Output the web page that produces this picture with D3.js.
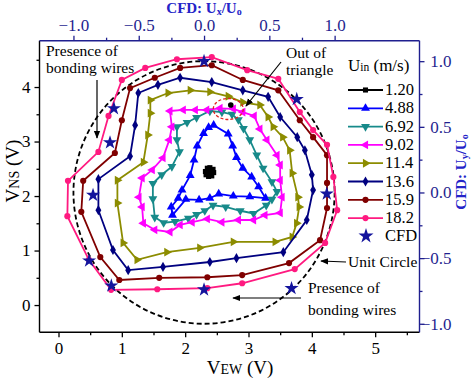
<!DOCTYPE html>
<html><head><meta charset="utf-8">
<script src="https://cdn.jsdelivr.net/npm/d3@7"></script>
<style>
html,body{margin:0;padding:0;background:#fff;}
svg{display:block;}
svg text{font-family:"Liberation Serif","DejaVu Serif",serif;}
</style></head>
<body><svg id="c" width="474" height="378"></svg>
<script>
// ---------- data (V_EW, V_NS in volts) ----------
const legendLabels = ["1.20","4.88","6.92","9.02","11.4","13.6","15.9","18.2"];
const s120 = [[2.39,2.52],[2.44,2.49],[2.45,2.43],[2.42,2.37],[2.37,2.36],[2.33,2.39],[2.32,2.45],[2.35,2.51]];
const s488 = [[2.45,3.30],[2.68,3.14],[2.75,2.92],[2.81,2.71],[2.91,2.51],[3.05,2.35],[3.16,2.17],[3.27,1.96],
  [3.02,1.99],[2.76,2.00],[2.53,2.04],[2.39,1.96],[2.22,1.93],[2.01,1.94],[1.80,1.65],[1.78,1.80],[1.89,1.96],
  [1.95,2.11],[2.08,2.38],[2.14,2.66],[2.19,2.92],[2.29,3.15],[2.37,3.26]];
const s692 = [[1.87,3.27],[2.03,3.35],[2.18,3.44],[2.39,3.56],[2.58,3.54],[2.74,3.50],[2.84,3.40],[2.92,3.24],
  [3.02,3.03],[3.13,2.75],[3.23,2.51],[3.37,2.26],[3.45,2.08],[3.37,1.94],[3.28,1.83],[3.08,1.68],[2.87,1.73],
  [2.64,1.80],[2.44,1.83],[2.31,1.73],[2.18,1.66],[2.05,1.59],[1.84,1.53],[1.66,1.51],[1.52,1.61],[1.49,1.95],
  [1.49,2.23],[1.63,2.39],[1.79,2.54],[1.91,2.81],[1.87,3.03]];
const s902 = [[1.76,3.56],[1.97,3.58],[2.16,3.58],[2.34,3.58],[2.55,3.61],[2.76,3.60],[2.91,3.54],[3.09,3.47],
  [3.18,3.23],[3.29,3.03],[3.45,2.75],[3.50,2.57],[3.50,2.29],[3.53,1.98],[3.50,1.69],[3.26,1.65],[3.08,1.56],
  [2.84,1.56],[2.58,1.52],[2.35,1.58],[2.11,1.52],[1.92,1.47],[1.76,1.34],[1.52,1.38],[1.34,1.50],[1.32,1.80],
  [1.27,1.98],[1.32,2.33],[1.48,2.48],[1.65,2.70],[1.75,3.03],[1.79,3.27]];
const s114 = [[1.45,3.76],[1.73,3.89],[2.08,3.94],[2.39,3.91],[2.68,3.83],[2.91,3.72],[3.18,3.67],[3.31,3.45],
  [3.39,3.27],[3.54,3.08],[3.65,2.84],[3.69,2.42],[3.78,1.98],[3.80,1.80],[3.76,1.50],[3.69,1.25],[3.42,1.16],
  [2.76,1.16],[2.23,1.05],[1.71,0.97],[1.24,0.83],[1.02,1.14],[0.93,1.87],[0.93,2.29],[1.34,2.62],[1.41,3.12],[1.45,3.52]];
const s136 = [[1.26,3.89],[1.21,3.30],[1.13,2.73],[0.63,2.31],[0.63,1.74],[0.86,1.01],[1.10,0.64],[1.65,0.70],
  [2.39,0.79],[2.81,0.86],[3.55,0.97],[3.92,1.56],[4.02,2.11],[4.00,2.39],[3.89,2.84],[3.77,3.08],[3.50,3.45],
  [3.31,3.82],[2.91,3.94],[2.42,4.09],[1.92,4.17],[1.57,4.04]];
const s159 = [[1.13,3.98],[1.00,3.39],[0.89,2.79],[0.39,2.28],[0.36,1.71],[0.66,0.88],[0.96,0.46],[1.59,0.50],
  [2.35,0.51],[2.90,0.55],[3.64,0.77],[4.13,1.19],[4.24,1.78],[4.24,2.24],[4.24,2.75],[4.02,3.08],[3.81,3.39],
  [3.47,3.94],[2.91,4.13],[2.42,4.40],[1.92,4.35],[1.52,4.17]];
const s182 = [[1.00,4.13],[0.79,3.47],[0.63,2.81],[0.15,2.28],[0.14,1.63],[0.48,0.83],[0.83,0.28],[1.56,0.29],
  [2.35,0.31],[2.90,0.40],[3.73,0.66],[4.21,1.14],[4.40,1.74],[4.34,2.35],[4.24,2.94],[4.02,3.21],[3.81,3.54],
  [3.47,4.15],[2.98,4.31],[2.42,4.55],[1.87,4.51],[1.37,4.35]];
// CFD points (Ux/Uo, Uy/Uo)
const cfd = [[0.00,1.00],[0.71,0.71],[0.94,-0.01],[0.67,-0.73],[0.00,-0.74],[-0.71,-0.71],[-0.88,-0.52],
  [-0.85,-0.02],[-0.72,0.38],[-0.69,0.64]];
const outOfTriangle = [2.72, 3.67];
const xTicks = [0,1,2,3,4,5];
const yTicks = [0,1,2,3,4];
const cfdTicks = [-1.0,-0.5,0.0,0.5,1.0];

// ---------- styles ----------
const series = [s120,s488,s692,s902,s114,s136,s159,s182];
const colors = ["#000000","#0000ff","#178a8a","#ff00ff","#8c8c00","#000080","#800000","#ff1a80"];
const shapes = ["square","up","down","left","right","diamond","circle","circle"];
const axisBlue = "#1f1f8f", titleBlue = "#2424c8", starBlue = "#14149c";
const FONT = "Liberation Serif";

const svg = d3.select("#c");
const L=39.5, R=419.5, T=40.7, B=332.3;
const x = d3.scaleLinear().domain([-0.3,5.7]).range([L,R]);
const y = d3.scaleLinear().domain([-0.5,4.85]).range([B,T]);
const xc = d3.scaleLinear().domain([-1.26,1.65]).range([L,R]);
const yc = d3.scaleLinear().domain([-1.065,1.156]).range([B,T]);

function sym(shape){
  if(shape==="square") return {t:d3.symbolSquare,s:26,r:0};
  if(shape==="diamond") return {t:d3.symbolDiamond,s:30,r:0};
  if(shape==="circle") return {t:d3.symbolCircle,s:30,r:0};
  const rot={up:0,down:180,left:-90,right:90}[shape];
  return {t:d3.symbolTriangle,s:34,r:rot};
}

const fs = 17;
function styleAxis(g,color){
  g.attr("font-family",FONT);
  g.select(".domain").remove();
  g.selectAll("line").attr("stroke",color).attr("stroke-width",1.3);
  g.selectAll("text").attr("fill",color).attr("font-size",fs);
}
svg.append("g").attr("transform",`translate(0,${B})`)
  .call(d3.axisBottom(x).tickValues(xTicks).tickSize(5).tickPadding(5).tickFormat(d3.format("d")))
  .call(g=>styleAxis(g,"#000"));
svg.append("g").attr("transform",`translate(0,${B})`)
  .call(d3.axisBottom(x).tickValues(d3.range(0.5,5.6,1)).tickSize(3).tickFormat(""))
  .call(g=>styleAxis(g,"#000"));
svg.append("g").attr("transform",`translate(${L},0)`)
  .call(d3.axisLeft(y).tickValues(yTicks).tickSize(5).tickPadding(4).tickFormat(d3.format("d")))
  .call(g=>styleAxis(g,"#000"));
svg.append("g").attr("transform",`translate(${L},0)`)
  .call(d3.axisLeft(y).tickValues(d3.range(0.5,4.6,1)).tickSize(3).tickFormat(""))
  .call(g=>styleAxis(g,"#000"));
svg.append("g").attr("transform",`translate(0,${T})`)
  .call(d3.axisTop(xc).tickValues(cfdTicks).tickSize(5).tickPadding(5).tickFormat(d3.format(".1f")))
  .call(g=>styleAxis(g,axisBlue));
svg.append("g").attr("transform",`translate(0,${T})`)
  .call(d3.axisTop(xc).tickValues([-0.75,-0.25,0.25,0.75]).tickSize(3).tickFormat(""))
  .call(g=>styleAxis(g,axisBlue));
const ra = svg.append("g").attr("transform",`translate(${R},0)`)
  .call(d3.axisRight(yc).tickValues(cfdTicks).tickSize(5).tickPadding(5).tickFormat(d3.format(".1f")))
  .call(g=>styleAxis(g,axisBlue));
ra.selectAll("text").attr("text-anchor","end").attr("x",32);
svg.append("g").attr("transform",`translate(${R},0)`)
  .call(d3.axisRight(yc).tickValues([-0.75,-0.25,0.25,0.75]).tickSize(3).tickFormat(""))
  .call(g=>styleAxis(g,axisBlue));

// frame
svg.append("line").attr("x1",L).attr("x2",L).attr("y1",T).attr("y2",B).attr("stroke","#000").attr("stroke-width",1.4);
svg.append("line").attr("x1",L).attr("x2",R).attr("y1",B).attr("y2",B).attr("stroke","#000").attr("stroke-width",1.4);
svg.append("line").attr("x1",L).attr("x2",R).attr("y1",T).attr("y2",T).attr("stroke",axisBlue).attr("stroke-width",1.4);
svg.append("line").attr("x1",R).attr("x2",R).attr("y1",T).attr("y2",B).attr("stroke",axisBlue).attr("stroke-width",1.4);

// unit circle
svg.append("ellipse").attr("cx",xc(0)).attr("cy",yc(0))
  .attr("rx",xc(1)-xc(0)).attr("ry",yc(0)-yc(1))
  .attr("fill","none").attr("stroke","#000").attr("stroke-width",1.8).attr("stroke-dasharray","5,3");

// series
const line = d3.line().x(d=>x(d[0])).y(d=>y(d[1])).curve(d3.curveLinearClosed);
series.forEach((s,i)=>{
  const g = svg.append("g");
  g.append("path").attr("d",line(s)).attr("fill",i===0?"#000":"none").attr("stroke",colors[i]).attr("stroke-width",1.8);
  const sp = sym(shapes[i]);
  g.selectAll("path.m").data(s).join("path").attr("class","m")
    .attr("d",d3.symbol().type(sp.t).size(sp.s))
    .attr("transform",d=>`translate(${x(d[0])},${y(d[1])}) rotate(${sp.r})`)
    .attr("fill",colors[i]);
});

// CFD stars
svg.append("g").selectAll("path").data(cfd).join("path")
  .attr("d",d3.symbol().type(d3.symbolStar).size(62))
  .attr("transform",d=>`translate(${xc(d[0])},${yc(d[1])})`)
  .attr("fill",starBlue);

// out of triangle marker
svg.append("ellipse").attr("cx",x(outOfTriangle[0])-2.5).attr("cy",y(outOfTriangle[1])+4)
  .attr("rx",15).attr("ry",10.5).attr("fill","none").attr("stroke","#e02020").attr("stroke-width",1.3).attr("stroke-dasharray","3,2");
svg.append("circle").attr("cx",x(outOfTriangle[0])).attr("cy",y(outOfTriangle[1])).attr("r",2.8).attr("fill","#000");

// arrows
const defs = svg.append("defs");
defs.append("marker").attr("id","ah").attr("viewBox","0 0 10 10").attr("refX",9).attr("refY",5)
  .attr("markerWidth",8).attr("markerHeight",8).attr("orient","auto-start-reverse").attr("markerUnits","userSpaceOnUse")
  .append("path").attr("d","M0,1 L10,5 L0,9 Z").attr("fill","#000");
function arrow(x1,y1,x2,y2){
  svg.append("line").attr("x1",x1).attr("y1",y1).attr("x2",x2).attr("y2",y2)
    .attr("stroke","#000").attr("stroke-width",1.2).attr("marker-end","url(#ah)");
}
arrow(97,80,97,138);
arrow(281,62,246,106);
arrow(346,262,321,261);
arrow(301,298,233,298);

function txt(t,xx,yy,size,anchor){
  return svg.append("text").attr("x",xx).attr("y",yy).attr("font-size",size||15.5).attr("text-anchor",anchor||"start").attr("fill","#000").text(t);
}
txt("Presence of",46,56);
txt("bonding wires",46,73);
txt("Out of",286,58);
txt("triangle",286,75);
txt("Unit Circle",348,267);
txt("Presence of",308,293);
txt("bonding wires",308,315);

// legend
const lg = svg.append("g");
const lt = lg.append("text").attr("x",348).attr("y",71).attr("font-size",17);
lt.append("tspan").text("U");
lt.append("tspan").attr("font-size",11.5).text("in");
lt.append("tspan").text(" (m/s)");
legendLabels.forEach((lab,i)=>{
  const yy = 90 + i*18.3;
  lg.append("line").attr("x1",348).attr("x2",383).attr("y1",yy).attr("y2",yy).attr("stroke",colors[i]).attr("stroke-width",1.8);
  const sp = sym(shapes[i]);
  lg.append("path").attr("d",d3.symbol().type(sp.t).size(sp.s)()).attr("transform",`translate(365.5,${yy}) rotate(${sp.r})`).attr("fill",colors[i]);
  lg.append("text").attr("x",385).attr("y",yy+5).attr("font-size",16.5).text(lab);
});
lg.append("path").attr("d",d3.symbol().type(d3.symbolStar).size(70)()).attr("transform","translate(366,236)").attr("fill",starBlue);
lg.append("text").attr("x",385).attr("y",241).attr("font-size",16.5).text("CFD");

// axis titles
const bt = svg.append("text").attr("x",240).attr("y",374).attr("text-anchor","middle").attr("font-size",19);
bt.append("tspan").text("V");
bt.append("tspan").attr("font-size",14).text("EW");
bt.append("tspan").text(" (V)");
const lt2 = svg.append("text").attr("transform","translate(19,171) rotate(-90)").attr("text-anchor","middle").attr("font-size",19);
lt2.append("tspan").text("V");
lt2.append("tspan").attr("font-size",14).text("NS");
lt2.append("tspan").text(" (V)");
const tt = svg.append("text").attr("x",204).attr("y",13).attr("text-anchor","middle").attr("font-size",15).attr("font-weight","bold").attr("fill",titleBlue);
tt.append("tspan").text("CFD: U");
tt.append("tspan").attr("font-size",10).attr("dy",2).text("x");
tt.append("tspan").attr("dy",-2).text("/U");
tt.append("tspan").attr("font-size",10).attr("dy",2).text("o");
const rt = svg.append("text").attr("transform","translate(466,172) rotate(-90)").attr("text-anchor","middle").attr("font-size",15).attr("font-weight","bold").attr("fill",titleBlue);
rt.append("tspan").text("CFD: U");
rt.append("tspan").attr("font-size",10).attr("dy",2).text("y");
rt.append("tspan").attr("dy",-2).text("/U");
rt.append("tspan").attr("font-size",10).attr("dy",2).text("o");

svg.selectAll("text").attr("font-family",FONT);
</script></body></html>
